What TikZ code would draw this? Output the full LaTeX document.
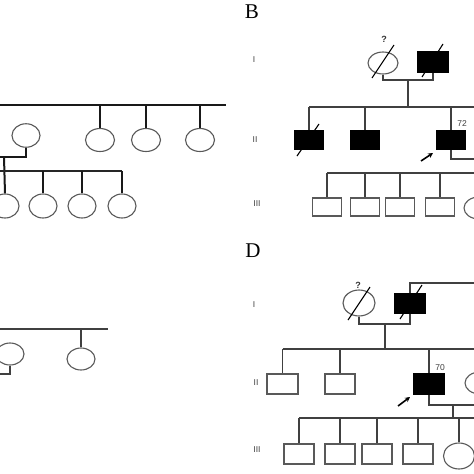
\documentclass[tikz,border=0pt]{standalone}
\usepackage{fontspec}
\newfontfamily\labfont{Liberation Sans}
\newfontfamily\letfont{Liberation Serif}
\usetikzlibrary{shapes.geometric,arrows.meta}
\begin{document}
\begin{tikzpicture}[x=1pt,y=-1pt,
 fem/.style={ellipse,draw=black!65,line width=1.1pt,minimum width=29,minimum height=23,inner sep=0pt},
 mal/.style={rectangle,draw=black!65,line width=1.1pt,minimum width=29,minimum height=19,inner sep=0pt},
 aff/.style={fill=black,draw=black},
 ln/.style={line width=1.3pt,draw=black!75},
 thk/.style={line width=2pt,draw=black!90},
 dec/.style={line width=1.1pt,draw=black},
 gen/.style={font=\labfont\fontsize{8.5}{9}\selectfont,text=black!75},
 pan/.style={font=\letfont\fontsize{21}{21}\selectfont},
 age/.style={font=\labfont\fontsize{8.5}{9}\selectfont,text=black!75},
 qm/.style={font=\labfont\bfseries\fontsize{9}{9}\selectfont,text=black!80},
 prob/.style={-{Stealth[length=5pt,width=5pt]},line width=1.6pt}
]
\useasboundingbox (0,0) rectangle (474,474);
\clip (0,0) rectangle (474,474);
\fill[white] (0,0) rectangle (474,474);

% ---------------- Panel A ----------------
\coordinate (aL) at (0,105);
\coordinate (aR) at (226,105);
\draw[thk,line width=2.4pt] (aL) -- (aR);
\node[fem,minimum width=28,minimum height=23.5] (a1) at (26,135.5) {};
\node[fem] (a2) at (100,140) {};
\node[fem] (a3) at (146,140) {};
\node[fem] (a4) at (200,140) {};
\foreach \n in {a2,a3,a4} \draw[thk] (\n.north |- aL) -- (\n.north);
\coordinate (aM) at (0,157);
\coordinate (aD) at (4,157);
\draw[thk] (a1.south) |- (aM);
\node[fem,minimum width=28,minimum height=24] (a5) at (5,206) {};
\node[fem,minimum width=28,minimum height=24] (a6) at (43,206) {};
\node[fem,minimum width=28,minimum height=24] (a7) at (82,206) {};
\node[fem,minimum width=28,minimum height=24] (a8) at (122,206) {};
\draw[thk] (aD) -- (a5.north);
\coordinate (aS) at (0,171);
\draw[ln,line width=1.6pt,draw=black!85] (aS) -- (a8.north |- aS);
\foreach \n in {a6,a7,a8} \draw[thk] (\n.north |- aS) -- (\n.north);

% ---------------- Panel B ----------------
\node[pan] (lB) at (252,12) {B};
\node[gen] (gB1) at (254,60) {I};
\node[gen] (gB2) at (255,140) {II};
\node[gen] (gB3) at (257,204) {III};
\node[fem,minimum width=30,minimum height=22] (b1) at (383,63) {};
\node[qm] (bq) at (384,39) {?};
\node[mal,aff,minimum width=30,minimum height=20] (b2) at (433,62) {};
\coordinate (bs1a) at (372,78); \coordinate (bs1b) at (394,45);
\draw[dec] (bs1a) -- (bs1b);
\coordinate (bs2a) at (422,77); \coordinate (bs2b) at (443,44);
\draw[dec] (bs2a) -- (bs2b);
\coordinate (bU) at (408,80);
\draw[ln] (b1.south) |- (bU) -| (b2.south);
\coordinate (bS) at (408,107);
\coordinate (bSR) at (474,107);
\draw[ln] (bU) -- (bS);
\node[mal,aff] (b3) at (309,140) {};
\node[mal,aff] (b4) at (365,140) {};
\node[mal,aff] (b5) at (451,140) {};
\draw[ln] (b3.north |- bS) -- (bSR);
\foreach \n in {b3,b4,b5} \draw[ln] (\n.north |- bS) -- (\n.north);
\coordinate (bs3a) at (297,156); \coordinate (bs3b) at (319,124);
\draw[dec] (bs3a) -- (bs3b);
\node[age] (b72) at (462,124) {72};
\coordinate (barA) at (421,161); \coordinate (barB) at (433,153);
\draw[prob] (barA) -- (barB);
\coordinate (bM) at (474,159);
\draw[ln] (b5.south) |- (bM);
\coordinate (bTR) at (474,173);
\node[mal,minimum height=18] (b6) at (327,207) {};
\node[mal,minimum height=18] (b7) at (365,207) {};
\node[mal,minimum height=18] (b8) at (400,207) {};
\node[mal,minimum height=18] (b9) at (440,207) {};
\node[fem,minimum width=30,minimum height=22] (b10) at (479,208) {};
\draw[ln] (b6.north |- bTR) -- (bTR);
\foreach \n in {b6,b7,b8,b9} \draw[ln] (\n.north |- bTR) -- (\n.north);

% ---------------- Panel C ----------------
\coordinate (cL) at (0,329);
\coordinate (cR) at (108,329);
\draw[ln] (cL) -- (cR);
\node[fem,minimum width=28,minimum height=22] (c1) at (10,354) {};
\node[fem,minimum width=28,minimum height=22] (c2) at (81,359) {};
\draw[ln] (c2.north |- cL) -- (c2.north);
\coordinate (cM) at (0,374);
\draw[ln] (c1.south) |- (cM);

% ---------------- Panel D ----------------
\node[pan] (lD) at (253,251) {D};
\node[gen] (gD1) at (254,305) {I};
\node[gen] (gD2) at (256,383) {II};
\node[gen] (gD3) at (257,450) {III};
\node[fem,minimum width=32,minimum height=26] (d1) at (359,303) {};
\node[qm] (dq) at (358,285) {?};
\node[mal,aff,minimum width=30,minimum height=19] (d2) at (410,303.5) {};
\coordinate (ds1a) at (348,320); \coordinate (ds1b) at (370,287);
\draw[dec] (ds1a) -- (ds1b);
\coordinate (ds2a) at (400,319); \coordinate (ds2b) at (422,285);
\draw[dec] (ds2a) -- (ds2b);
\coordinate (dTop) at (474,283);
\draw[ln] (d2.north) |- (dTop);
\coordinate (dU) at (385,324);
\draw[ln] (d1.south) |- (dU) -| (d2.south);
\coordinate (dS) at (385,349);
\coordinate (dSR) at (474,349);
\draw[ln] (dU) -- (dS);
\node[mal,minimum width=31,minimum height=20] (d3) at (282.5,384) {};
\node[mal,minimum width=30,minimum height=20] (d4) at (340,384) {};
\node[mal,aff,minimum width=30,minimum height=20] (d5) at (429,384) {};
\node[fem,minimum width=30,minimum height=22] (d6) at (480,383) {};
\draw[ln] (d3.north |- dS) -- (dSR);
\foreach \n in {d3,d4,d5} \draw[ln] (\n.north |- dS) -- (\n.north);
\node[age] (d70) at (440,368) {70};
\coordinate (darA) at (398,406); \coordinate (darB) at (410,397);
\draw[prob] (darA) -- (darB);
\coordinate (dM) at (453,405);
\coordinate (dMR) at (474,405);
\draw[ln] (d5.south) |- (dMR);
\coordinate (dT) at (453,418);
\coordinate (dTR) at (474,418);
\draw[ln] (dM) -- (dT);
\node[mal,minimum width=30,minimum height=20] (d7) at (299,454) {};
\node[mal,minimum width=30,minimum height=20] (d8) at (340,454) {};
\node[mal,minimum width=30,minimum height=20] (d9) at (377,454) {};
\node[mal,minimum width=30,minimum height=20] (d10) at (418,454) {};
\node[fem,minimum width=31,minimum height=26] (d11) at (459,456) {};
\draw[ln] (d7.north |- dTR) -- (dTR);
\foreach \n in {d7,d8,d9,d10,d11} \draw[ln] (\n.north |- dTR) -- (\n.north);
\end{tikzpicture}
\end{document}
